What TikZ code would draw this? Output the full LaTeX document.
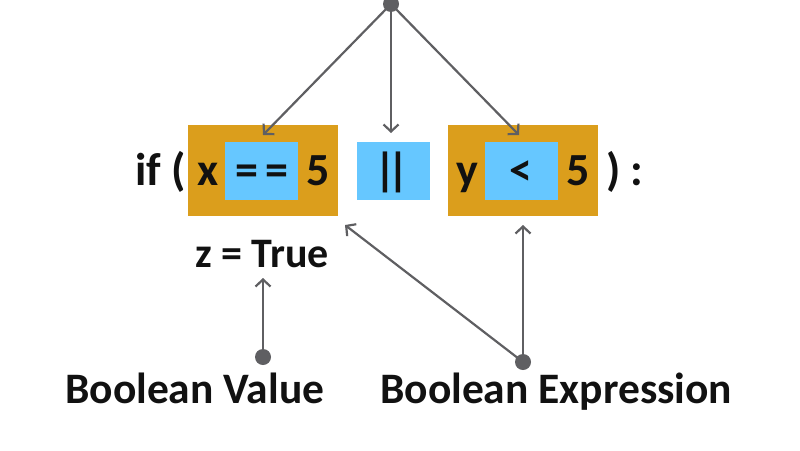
\documentclass[tikz,border=0pt]{standalone}
\usepackage{fontspec}
\setmainfont{Carlito}
\usetikzlibrary{arrows.meta}
\definecolor{orangebox}{HTML}{DB9E1C}
\definecolor{bluebox}{HTML}{66C7FF}
\definecolor{arrowgray}{HTML}{5F5F62}
\definecolor{ink}{HTML}{111111}
\tikzset{
  obox/.style={fill=orangebox, draw=none},
  bbox/.style={fill=bluebox, draw=none},
  codetxt/.style={inner sep=0pt, text=ink, font=\bfseries\fontsize{46}{50}\selectfont, anchor=base},
  labtxt/.style={inner sep=0pt, text=ink, font=\bfseries\fontsize{43.5}{48}\selectfont, anchor=base west},
  ztxt/.style={inner sep=0pt, text=ink, font=\bfseries\fontsize{42}{46}\selectfont, anchor=base west},
  conn/.style={draw=arrowgray, line width=2.2pt, -{Straight Barb[length=7pt,width=15pt,line width=2.2pt]}},
  dotnode/.style={circle, fill=arrowgray, inner sep=0pt, minimum size=16pt},
}
\begin{document}
\begin{tikzpicture}[x=1pt,y=-1pt]
\useasboundingbox (0,0) rectangle (800,450);
% boxes
\fill[obox] (188,125) rectangle (338,216);
\fill[bbox] (225,142) rectangle (298,200);
\fill[bbox] (357,142) rectangle (430,200);
\fill[obox] (448,125) rectangle (598,216);
\fill[bbox] (485,142) rectangle (558,200);
\coordinate (b1top) at (263,135);
\coordinate (ortop) at (391,133);
\coordinate (b2top) at (519,135);
\coordinate (b1corner) at (345,225);
\coordinate (b2bottom) at (523,225);
\coordinate (ztip) at (263,278);
% code text
\node[codetxt, anchor=base west] (if) at (135,185) {if};
\node[codetxt, anchor=base west] (open) at (171,185) {(};
\node[codetxt] (x) at (208,185) {x};
\node[codetxt] (eq) at (262,185) {=\kern8pt=};
\node[codetxt] (five1) at (318,185) {5};
\node[codetxt] (or) at (392,185) {|\kern-9pt|};
\node[codetxt] (y) at (467,185) {y};
\node[codetxt] (lt) at (521,185) {<};
\node[codetxt] (five2) at (578,185) {5};
\node[codetxt, anchor=base west] (close) at (606,185) {)};
\node[codetxt, anchor=base west] (colon) at (630,185) {:};
\node[ztxt] (z) at (195,267) {z = True};
% labels
\node[labtxt] (bv) at (65,403) {Boolean Value};
\node[labtxt] (be) at (380,403) {Boolean Expression};
% dots
\node[dotnode] (topdot) at (391,4) {};
\node[dotnode] (vdot) at (263,357) {};
\node[dotnode] (edot) at (523,362) {};
% connectors
\draw[conn] (topdot.center) -- (b1top);
\draw[conn] (topdot.center) -- (ortop);
\draw[conn] (topdot.center) -- (b2top);
\draw[conn] (vdot.center) -- (ztip);
\draw[conn] (edot.center) -- (b1corner);
\draw[conn] (edot.center) -- (b2bottom);
\end{tikzpicture}
\end{document}
